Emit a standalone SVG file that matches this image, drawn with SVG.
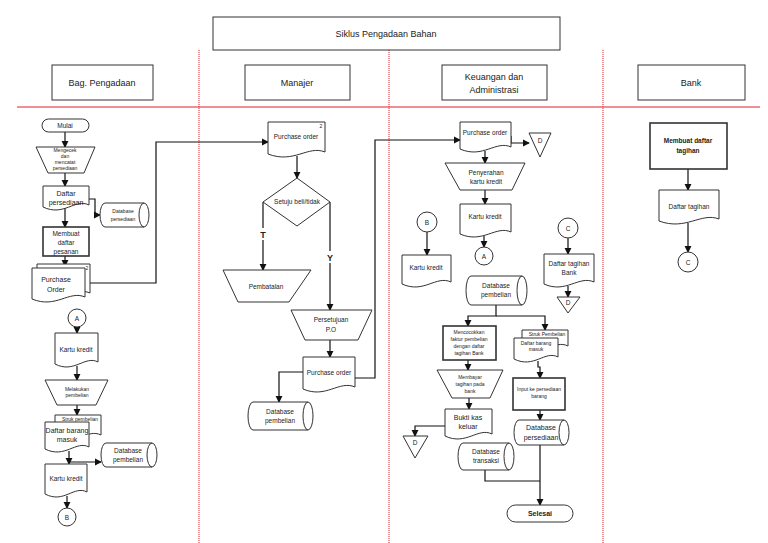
<svg xmlns="http://www.w3.org/2000/svg" width="768" height="543" viewBox="0 0 768 543">
<style>
text{font-family:"Liberation Sans",Arial,sans-serif;fill:#222;text-anchor:middle}
.s{fill:#fff;stroke:#333;stroke-width:1}
.p{fill:#fff;stroke:#333;stroke-width:1.6}
.red{stroke:#e0202a;stroke-width:1;fill:none}
.c{fill:none;stroke:#111;stroke-width:1.2}
.t6{font-size:5px}.t7{font-size:6.5px}.t8{font-size:7px}.t9{font-size:9px}
</style>
<defs><marker id="a" viewBox="0 0 8 8" refX="7" refY="4" markerWidth="6" markerHeight="6" orient="auto"><path d="M0,0 L8,4 L0,8 Z" fill="#111"/></marker></defs>
<rect width="768" height="543" fill="#fff"/>
<g id="lanes">
<line class="red" x1="17" y1="107" x2="760" y2="107"/>
<line class="red" x1="199" y1="50" x2="199" y2="543" stroke-dasharray="1 1"/>
<line class="red" x1="389" y1="50" x2="389" y2="543" stroke-dasharray="1 1"/>
<line class="red" x1="603" y1="50" x2="603" y2="543" stroke-dasharray="1 1"/>
<rect class="s" x="213" y="17" width="347" height="33"/><text class="t9" x="386" y="37">Siklus Pengadaan Bahan</text>
<rect class="s" x="52" y="65" width="101" height="35"/><text class="t9" x="102" y="86">Bag. Pengadaan</text>
<rect class="s" x="245" y="65" width="105" height="35"/><text class="t9" x="297" y="86">Manajer</text>
<rect class="s" x="442" y="65" width="105" height="35"/><text class="t9" x="494" y="80">Keuangan dan</text><text class="t9" x="494" y="93">Administrasi</text>
<rect class="s" x="638" y="65" width="107" height="35"/><text class="t9" x="691" y="86">Bank</text>
</g>
<g id="connectors">
<path class="c" marker-end="url(#a)" d="M65,132 V147"/>
<path class="c" marker-end="url(#a)" d="M65,173 V186"/>
<path class="c" marker-end="url(#a)" d="M89,199 H95 V215 H100"/>
<path class="c" marker-end="url(#a)" d="M65,208 V227"/>
<path class="c" marker-end="url(#a)" d="M65,256 V266"/>
<path class="c" marker-end="url(#a)" d="M86,283 H156 V142 H268"/>
<path class="c" marker-end="url(#a)" d="M77,327 V333"/>
<path class="c" marker-end="url(#a)" d="M77,366 V380"/>
<path class="c" marker-end="url(#a)" d="M77,405 V415"/>
<path class="c" marker-end="url(#a)" d="M69,451 V462 H101"/>
<path class="c" marker-end="url(#a)" d="M69,462 V464"/>
<path class="c" marker-end="url(#a)" d="M67,496 V508"/>
<path class="c" marker-end="url(#a)" d="M297,156 V178"/>
<path class="c" marker-end="url(#a)" d="M263,202 V270"/>
<path class="c" marker-end="url(#a)" d="M330,202 V310"/>
<path class="c" marker-end="url(#a)" d="M330,340 V357"/>
<path class="c" marker-end="url(#a)" d="M303,372 H279 V402"/>
<path class="c" marker-end="url(#a)" d="M355,378 H375 V140 H460"/>
<path class="c" marker-end="url(#a)" d="M511,136 V143 H529"/>
<path class="c" marker-end="url(#a)" d="M485,151 V163"/>
<path class="c" marker-end="url(#a)" d="M485,190 V204"/>
<path class="c" marker-end="url(#a)" d="M484,236 V247"/>
<path class="c" marker-end="url(#a)" d="M427,232 V255"/>
<path class="c" marker-end="url(#a)" d="M568,238 V254"/>
<path class="c" marker-end="url(#a)" d="M568,286 V297"/>
<path class="c" marker-end="url(#a)" d="M496,305 V316 H468 V326"/>
<path class="c" marker-end="url(#a)" d="M496,316 H545 V330"/>
<path class="c" marker-end="url(#a)" d="M468,360 V370"/>
<path class="c" marker-end="url(#a)" d="M469,398 V409"/>
<path class="c" marker-end="url(#a)" d="M445,426 H415 V436"/>
<path class="c" marker-end="url(#a)" d="M538,361 V367 H540 V378"/>
<path class="c" marker-end="url(#a)" d="M540,410 V420"/>
<path class="c" marker-end="url(#a)" d="M540,445 V505"/>
<path class="c" d="M485,470 V481 H540"/>
<path class="c" marker-end="url(#a)" d="M688,169 V190"/>
<path class="c" marker-end="url(#a)" d="M688,223 V252"/>
</g>
<g id="labels">
<rect x="258" y="228" width="10" height="12" fill="#fff"/><text class="t9" x="263" y="238" font-weight="bold">T</text>
<rect x="325" y="251" width="10" height="12" fill="#fff"/><text class="t9" x="330" y="261" font-weight="bold">Y</text>
</g>
<g id="mulai"><rect class="s" x="42" y="119" width="47" height="13" rx="6.5"/><text class="t7" x="65" y="128">Mulai</text></g>
<g id="mengecek"><path class="s" d="M36,147 H95 L84,173 H48 Z"/><text class="t6" x="65" y="152">Mengecek</text><text class="t6" x="65" y="158">dan</text><text class="t6" x="65" y="164">mencatat</text><text class="t6" x="65" y="170">persediaan</text></g>
<g id="daftarpersediaan"><path class="s" d="M43,186 H89 V205 C75,198 64,217 43,207 Z"/><text class="t8" x="66" y="196">Daftar</text><text class="t8" x="66" y="205">persediaan</text></g>
<g id="dbpersediaan1"><path class="s" d="M105,203 H144 A5,12 0 0 1 144,227 H105 A5,12 0 0 1 105,203 Z M144,203 A5,12 0 0 0 144,227"/><text class="t6" x="123" y="213">Database</text><text class="t6" x="123" y="221">persediaan</text></g>
<g id="membuatpesanan"><rect class="p" x="43" y="227" width="46" height="29"/><text class="t7" x="66" y="236">Membuat</text><text class="t7" x="66" y="245">daftar</text><text class="t7" x="66" y="254">pesanan</text></g>
<g id="po1"><path class="s" d="M37,264 H90 V293 C74,286 61,305 37,295 Z"/><text class="t6" x="87" y="270">2</text><path class="s" d="M32,268 H85 V297 C69,290 56,309 32,299 Z"/><text class="t8" x="56" y="282">Purchase</text><text class="t8" x="56" y="292">Order</text></g>
<g id="conA1"><circle class="s" cx="77" cy="318" r="9"/><text class="t7" x="77" y="321">A</text></g>
<g id="kk1"><path class="s" d="M55,333 H98 V362 C85,355 74,374 55,364 Z"/><text class="t7" x="76" y="352">Kartu kredit</text></g>
<g id="melakukan"><path class="s" d="M45,380 H108 L96,405 H57 Z"/><text class="t6" x="77" y="391">Melakukan</text><text class="t6" x="77" y="397">pembelian</text></g>
<g id="dbm1"><path class="s" d="M55,415 H101 V435 C87,428 76,447 55,437 Z"/><text class="t6" x="80" y="421">Struk pembelian</text><path class="s" d="M45,422 H89 V447 C76,440 65,459 45,449 Z"/><text class="t8" x="67" y="433">Daftar barang</text><text class="t8" x="67" y="442">masuk</text></g>
<g id="dbpembelian1"><path class="s" d="M106,443 H152 A5,12 0 0 1 152,467 H106 A5,12 0 0 1 106,443 Z M152,443 A5,12 0 0 0 152,467"/><text class="t7" x="128" y="453">Database</text><text class="t7" x="128" y="462">pembelian</text></g>
<g id="kk2"><path class="s" d="M45,464 H87 V492 C74,485 64,504 45,494 Z"/><text class="t7" x="66" y="481">Kartu kredit</text></g>
<g id="conB1"><circle class="s" cx="67" cy="517" r="9"/><text class="t7" x="67" y="520">B</text></g>
<g id="po2"><path class="s" d="M268,122 H325 V152 C308,145 294,164 268,154 Z"/><text class="t6" x="321" y="128">2</text><text class="t7" x="296" y="139">Purchase order</text></g>
<g id="setuju"><path class="s" d="M297,178 L330,202 L297,226 L263,202 Z"/><text class="t7" x="297" y="204">Setuju beli/tidak</text></g>
<g id="pembatalan"><path class="s" d="M223,270 H311 L289,302 H238 Z"/><text class="t7" x="266" y="289">Pembatalan</text></g>
<g id="persetujuan"><path class="s" d="M291,310 H372 L358,340 H305 Z"/><text class="t7" x="331" y="322">Persetujuan</text><text class="t7" x="331" y="332">P.O</text></g>
<g id="po3"><path class="s" d="M303,357 H355 V387 C339,380 326,399 303,389 Z"/><text class="t7" x="329" y="375">Purchase order</text></g>
<g id="dbpembelian2"><path class="s" d="M253,402 H308 A5,14 0 0 1 308,430 H253 A5,14 0 0 1 253,402 Z M308,402 A5,14 0 0 0 308,430"/><text class="t7" x="280" y="414">Database</text><text class="t7" x="280" y="423">pembelian</text></g>
<g id="po4"><path class="s" d="M460,122 H511 V147 C496,140 483,159 460,149 Z"/><text class="t7" x="485" y="135">Purchase order</text></g>
<g id="conD1"><path class="s" d="M529,133 H551 L540,157 Z"/><text class="t7" x="540" y="143">D</text></g>
<g id="penyerahan"><path class="s" d="M445,163 H525 L512,190 H460 Z"/><text class="t7" x="486" y="175">Penyerahan</text><text class="t7" x="486" y="184">kartu kredit</text></g>
<g id="kk3"><path class="s" d="M460,204 H511 V232 C496,225 483,244 460,234 Z"/><text class="t7" x="485" y="219">Kartu kredit</text></g>
<g id="conA2"><circle class="s" cx="484" cy="256" r="9"/><text class="t7" x="484" y="259">A</text></g>
<g id="conB2"><circle class="s" cx="427" cy="222" r="10"/><text class="t7" x="427" y="225">B</text></g>
<g id="kk4"><path class="s" d="M402,255 H451 V282 C436,275 424,294 402,284 Z"/><text class="t7" x="426" y="270">Kartu kredit</text></g>
<g id="conC1"><circle class="s" cx="568" cy="228" r="10"/><text class="t7" x="568" y="231">C</text></g>
<g id="dtbank"><path class="s" d="M544,254 H594 V282 C579,275 566,294 544,284 Z"/><text class="t7" x="569" y="266">Daftar tagihan</text><text class="t7" x="569" y="275">Bank</text></g>
<g id="conD2"><path class="s" d="M557,297 H580 L568,313 Z"/><text class="t7" x="568" y="305">D</text></g>
<g id="dbpembelian3"><path class="s" d="M471,276 H522 A5,14.5 0 0 1 522,305 H471 A5,14.5 0 0 1 471,276 Z M522,276 A5,14.5 0 0 0 522,305"/><text class="t7" x="496" y="288">Database</text><text class="t7" x="496" y="297">pembelian</text></g>
<g id="mencocokkan"><rect class="p" x="443" y="326" width="53" height="34"/><text class="t6" x="469" y="334">Mencocokkan</text><text class="t6" x="469" y="341">faktur pembelian</text><text class="t6" x="469" y="348">dengan daftar</text><text class="t6" x="469" y="355">tagihan Bank</text></g>
<g id="membayar"><path class="s" d="M437,370 H503 L490,398 H452 Z"/><text class="t6" x="470" y="379">Membayar</text><text class="t6" x="470" y="386">tagihan pada</text><text class="t6" x="470" y="393">bank</text></g>
<g id="bukti"><path class="s" d="M445,409 H492 V434 C478,427 466,446 445,436 Z"/><text class="t8" x="468" y="420">Bukti kas</text><text class="t8" x="468" y="429">keluar</text></g>
<g id="conD3"><path class="s" d="M403,436 H428 L415,458 Z"/><text class="t7" x="415" y="445">D</text></g>
<g id="dbtransaksi"><path class="s" d="M463,443 H509 A5,13.5 0 0 1 509,470 H463 A5,13.5 0 0 1 463,443 Z M509,443 A5,13.5 0 0 0 509,470"/><text class="t7" x="486" y="454">Database</text><text class="t7" x="486" y="463">transaksi</text></g>
<g id="dbm2"><path class="s" d="M522,330 H568 V346 C554,339 543,358 522,348 Z"/><text class="t6" x="547" y="336">Struk Pembelian</text><path class="s" d="M514,338 H558 V357 C545,350 534,369 514,359 Z"/><text class="t6" x="536" y="345">Daftar barang</text><text class="t6" x="536" y="351">masuk</text></g>
<g id="input"><rect class="p" x="513" y="378" width="52" height="32"/><text class="t6" x="539" y="391">Input ke persediaan</text><text class="t6" x="539" y="398">barang</text></g>
<g id="dbpersediaan2"><path class="s" d="M519,420 H564 A5,12.5 0 0 1 564,445 H519 A5,12.5 0 0 1 519,420 Z M564,420 A5,12.5 0 0 0 564,445"/><text class="t8" x="541" y="430">Database</text><text class="t8" x="541" y="440">persediaan</text></g>
<g id="selesai"><rect class="s" x="507" y="505" width="66" height="17" rx="8.5"/><text class="t8" x="540" y="516" font-weight="bold">Selesai</text></g>
<g id="membuattagihan"><rect class="p" x="650" y="123" width="77" height="46"/><text class="t7" x="688" y="143" font-weight="bold">Membuat daftar</text><text class="t7" x="688" y="153" font-weight="bold">tagihan</text></g>
<g id="daftartagihan"><path class="s" d="M659,190 H719 V219 C701,212 686,231 659,221 Z"/><text class="t7" x="689" y="209">Daftar tagihan</text></g>
<g id="conC2"><circle class="s" cx="688" cy="262" r="10"/><text class="t7" x="688" y="265">C</text></g>
</svg>
